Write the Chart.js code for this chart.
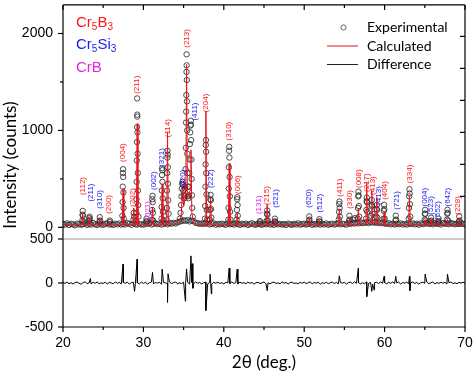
<!DOCTYPE html>
<html>
<head>
<meta charset="utf-8">
<script src="https://cdn.jsdelivr.net/npm/chart.js@4.4.1/dist/chart.umd.min.js"></script>
<style>
  html, body { margin: 0; padding: 0; background: #fff; }
  #wrap { position: relative; width: 474px; height: 384px; }
  #wrap canvas { position: absolute; left: 0; top: 0; }
</style>
</head>
<body>
<div id="wrap">
  <canvas id="topChart" width="474" height="384"></canvas>
  <canvas id="diffChart" width="474" height="384"></canvas>
</div>
<script>
// scan grid for the baseline samples (2theta, deg)
const scanStart = 20, scanStep = 0.25;

// experimental background, one value per grid step (counts)
const expBaseline = [
  34, 28, 41, 25, 37, 30, 22, 39, 31, 27,
  33, 40, 26, 35, 29, 44, 31, 24, 38, 30,
  27, 36, 42, 29, 33, 25, 38, 31, 40, 28,
  35, 30, 44, 37, 26, 41, 33, 29, 36, 31,
  28, 39, 34, 45, 30, 37, 42, 33, 38, 29,
  36, 41, 32, 44, 38, 47, 40, 52, 58, 66,
  72, 68, 75, 61, 70, 64, 48, 43, 37, 40,
  34, 45, 39, 31, 36, 42, 28, 35, 30, 38,
  33, 27, 40, 31, 36, 29, 43, 34, 26, 37,
  31, 39, 25, 34, 42, 30, 28, 36, 33, 27,
  38, 32, 41, 29, 35, 26, 40, 31, 37, 28,
  34, 25, 39, 31, 27, 36, 30, 42, 28, 33,
  37, 29, 35, 41, 26, 34, 31, 38, 28, 36,
  30, 40, 27, 33, 38, 29, 35, 42, 31, 37,
  34, 28, 43, 36, 45, 39, 48, 41, 50, 44,
  47, 52, 45, 55, 49, 53, 46, 51, 42, 48,
  40, 35, 43, 31, 37, 29, 38, 33, 41, 30,
  36, 28, 39, 34, 42, 31, 37, 27, 40, 33,
  38, 45, 35, 41, 32, 43, 36, 39, 30, 44,
  37, 41, 33, 46, 38, 32, 40, 35, 42, 36,
  31
];

// experimental points on the Bragg peaks [2theta, counts]
const expPeakPts = [
  [22.40,70],[22.43,130],[22.45,170],[22.48,120],[22.52,60],
  [23.22,65],[23.26,95],[23.30,110],[23.36,80],
  [24.53,60],[24.57,105],[24.61,70],
  [25.80,55],[25.84,70],
  [27.39,120],[27.41,260],[27.43,420],[27.45,560],[27.47,600],[27.49,520],[27.51,360],[27.53,200],[27.56,90],
  [28.76,80],[28.80,150],[28.84,110],
  [29.10,60],[29.12,150],[29.14,290],[29.16,470],[29.18,690],[29.20,880],[29.21,1034],[29.22,1330],[29.23,1163],[29.24,1143],[29.26,980],[29.28,760],[29.30,560],[29.32,380],[29.35,230],[29.38,110],
  [30.35,60],[30.39,90],[30.43,65],
  [31.07,80],[31.09,180],[31.11,290],[31.13,325],[31.15,260],[31.18,150],[31.22,70],
  [32.25,90],[32.27,210],[32.29,380],[32.31,540],[32.33,610],[32.35,590],[32.37,470],[32.40,300],[32.43,160],[32.47,70],
  [32.90,80],[32.92,200],[32.94,380],[32.96,560],[32.98,720],[33.00,790],[33.02,750],[33.04,620],[33.06,450],[33.09,280],[33.13,140],
  [34.55,90],[34.62,150],[34.68,230],[34.73,320],[34.78,400],[34.83,450],[34.87,470],[34.91,440],[34.96,380],[35.01,330],[35.06,300],[35.11,320],[35.16,400],
  [35.20,420],[35.24,600],[35.27,820],[35.30,1081],[35.32,1194],[35.34,1365],[35.36,1604],[35.37,1785],[35.38,1672],[35.40,1520],[35.42,1300],[35.44,1000],[35.46,760],[35.48,560],[35.51,420],[35.55,320],[35.59,300],
  [35.63,330],[35.66,420],[35.70,560],[35.74,700],[35.78,860],[35.82,980],[35.86,1050],[35.90,1100],[35.92,1060],[35.94,900],[35.97,700],[36.00,500],[36.04,330],[36.08,200],[36.14,110],
  [37.66,90],[37.69,220],[37.72,420],[37.74,650],[37.76,850],[37.78,900],[37.80,780],[37.82,560],[37.85,340],[37.88,180],[37.92,80],
  [38.24,80],[38.28,180],[38.32,290],[38.36,335],[38.39,280],[38.42,190],[38.46,100],
  [40.56,80],[40.59,200],[40.62,400],[40.64,620],[40.66,790],[40.68,830],[40.70,720],[40.72,520],[40.75,320],[40.78,160],[40.82,80],
  [41.60,80],[41.63,180],[41.66,290],[41.68,311],[41.71,230],[41.74,120],
  [44.47,50],[44.50,65],
  [45.34,70],[45.37,140],[45.40,174],[45.43,130],[45.47,70],
  [46.33,60],[46.36,90],[46.40,60],
  [50.60,70],[50.63,113],[50.66,80],
  [51.85,60],[51.88,85],[51.91,60],
  [54.30,80],[54.33,160],[54.36,240],[54.38,266],[54.41,200],[54.44,110],
  [55.58,70],[55.62,120],[55.66,80],
  [56.10,80],[56.32,95],
  [56.66,90],[56.69,200],[56.72,320],[56.74,368],[56.77,330],[56.80,220],[56.84,110],
  [57.70,90],[57.73,180],[57.76,270],[57.78,307],[57.81,260],[57.85,160],
  [58.33,120],[58.37,220],[58.41,283],[58.44,230],[58.48,140],
  [58.97,110],[59.00,190],[59.03,232],[59.06,180],[59.10,100],
  [59.88,90],[59.91,170],[59.94,232],[59.97,190],[60.01,90],
  [61.35,70],[61.39,120],[61.43,80],
  [63.00,90],[63.03,200],[63.06,320],[63.09,393],[63.12,350],[63.15,240],[63.19,110],
  [64.98,80],[65.01,140],[65.04,181],[65.07,140],[65.11,70],
  [65.76,60],[65.79,100],[65.82,70],
  [66.67,55],[66.70,90],[66.73,60],
  [67.76,80],[67.79,140],[67.82,181],[67.85,150],[67.89,70],
  [69.24,60],[69.28,113],[69.32,70]
];

// calculated profile [2theta, counts]
const calcPts = [
  [20,25],
  [22.35,25],[22.45,150],[22.55,25],
  [23.2,25],[23.3,100],[23.4,25],
  [24.47,25],[24.57,95],[24.67,25],
  [25.72,25],[25.82,60],[25.92,25],
  [27.37,25],[27.47,400],[27.57,25],
  [28.7,25],[28.8,200],[28.9,30],
  [29.12,30],[29.22,1070],[29.32,25],
  [30.29,25],[30.39,70],[30.49,25],
  [31.03,25],[31.13,210],[31.23,25],
  [32.23,25],[32.33,450],[32.43,30],
  [32.9,30],[33.0,980],[33.1,35],
  [34.4,35],[34.7,120],[34.87,420],[35.02,220],[35.27,330],[35.37,1680],[35.47,300],[35.8,380],[35.92,800],[36.02,150],[36.3,35],
  [37.67,30],[37.77,1200],[37.87,30],
  [38.26,30],[38.36,300],[38.46,25],
  [40.57,25],[40.67,660],[40.77,25],
  [41.57,25],[41.67,150],[41.77,25],
  [44.4,25],[44.5,50],[44.6,25],
  [45.3,25],[45.4,240],[45.5,25],
  [46.26,25],[46.36,80],[46.46,25],
  [50.53,25],[50.63,95],[50.73,25],
  [51.78,25],[51.88,75],[51.98,25],
  [54.27,25],[54.37,190],[54.47,25],
  [55.52,25],[55.62,100],[55.72,25],
  [56.64,30],[56.74,200],[56.84,35],
  [57.68,35],[57.78,460],[57.88,45],
  [58.31,45],[58.41,380],[58.51,45],
  [58.93,40],[59.03,310],[59.13,35],
  [59.84,30],[59.94,160],[60.04,25],
  [61.29,25],[61.39,50],[61.49,25],
  [62.99,25],[63.09,330],[63.19,25],
  [64.94,25],[65.04,80],[65.14,25],
  [65.69,25],[65.79,80],[65.89,25],
  [66.6,25],[66.7,70],[66.8,25],
  [67.72,25],[67.82,80],[67.92,25],
  [69.18,25],[69.28,90],[69.38,25],
  [70,25]
];

// difference curve: background noise on the scan grid + peak misfits
const diffBaseline = [
  8, -5, 12, -9, 4, -12, 6, 10, -3, -14,
  5, 13, -7, 2, -10, 9, -4, 11, -8, 3,
  -6, 10, -12, 7, 1, -9, 12, -4, 8, -11,
  6, -3, 10, -13, 4, 9, -7, 2, -10, 11,
  -5, 8, -12, 3, 12, -8, 5, -2, 9, -14,
  7, 1, -9, 11, -6, 4, 13, -11, 2, -7,
  10, -4, 8, -12, 5, -9, 12, -3, 6, -10,
  3, 11, -8, 5, -13, 7, -2, 9, -6, 4,
  -11, 8, 2, -7, 12, -5, 6, -12, 10, -3,
  5, -9, 11, -4, 7, -13, 3, 9, -6, 1,
  12, -8, 4, -11, 6, 10, -5, 2, -9, 13,
  -3, 7, -12, 5, 9, -6, 1, -10, 8, -4,
  11, -7, 3, 12, -9, 6, -2, 10, -13, 4,
  -5, 9, -8, 2, 11, -6, 7, -11, 5, -1,
  8, -12, 4, 10, -7, 13, -4, 6, -10, 3,
  -8, 12, -5, 7, -11, 2, 9, -6, 11, -3,
  5, -10, 8, -4, 12, -7, 3, 10, -12, 6,
  -2, 9, -9, 4, 11, -6, 7, -13, 5, 8,
  -4, 10, -8, 3, 12, -11, 6, -5, 9, -2,
  7, -10, 4, 11, -6, 2, -9, 8, -3, 10,
  -5
];
const diffSpikes = [
  [23.40,50],[27.47,214],[28.90,-95],[29.22,271],[31.13,120],[32.33,158],
  [33.00,-219],[33.06,105],[35.22,-207],[35.37,160],[35.92,308],[36.05,220],[36.15,-60],
  [37.77,-312],[38.30,100],[38.45,-124],[40.67,170],[41.67,158],[45.40,-87],
  [54.37,82],[56.74,170],[57.78,-155],[58.41,-95],[58.70,-80],[59.94,75],
  [61.39,75],[63.09,75],[63.14,-87],[65.04,100],[67.82,100]
];

// reflection labels [text, phase, 2theta, counts at label foot]
const hklLabels = [
  ['(112)','Cr5B3',22.42,333], ['(211)','Cr5Si3',23.41,266], ['(310)','Cr5Si3',24.57,191],
  ['(200)','Cr5B3',25.73,140], ['(004)','Cr5B3',27.40,675], ['(202)','Cr5B3',28.64,212],
  ['(211)','Cr5B3',29.22,1378], ['(021)','CrB',30.51,79], ['(002)','Cr5Si3',31.26,386],
  ['(321)','Cr5Si3',32.33,624], ['(114)','Cr5B3',33.08,930], ['(420)','Cr5Si3',34.94,403],
  ['(213)','Cr5B3',35.37,1853], ['(411)','Cr5Si3',36.40,1102], ['(204)','Cr5B3',37.73,1187],
  ['(222)','Cr5Si3',38.36,405], ['(310)','Cr5B3',40.67,897], ['(006)','Cr5B3',41.79,345],
  ['(131)','CrB',44.41,137], ['(215)','Cr5B3',45.40,232], ['(521)','Cr5Si3',46.45,202],
  ['(620)','Cr5Si3',50.63,202], ['(512)','Cr5Si3',51.88,154], ['(411)','Cr5B3',54.46,317],
  ['(330)','Cr5B3',55.70,191], ['(008)','Cr5B3',56.74,406], ['(217)','Cr5B3',57.78,365],
  ['(413)','Cr5B3',58.53,335], ['(413)','Cr5Si3',59.23,232], ['(404)','Cr5B3',60.06,284],
  ['(721)','Cr5Si3',61.52,181], ['(334)','Cr5B3',63.09,454], ['(004)','Cr5Si3',64.96,215],
  ['(523)','Cr5Si3',65.79,130], ['(552)','Cr5Si3',66.62,79], ['(642)','Cr5Si3',67.82,215],
  ['(228)','Cr5B3',69.12,130]
];

const phaseNames = ['Cr5B3', 'Cr5Si3', 'CrB'];
const phaseColors = { 'Cr5B3': '#ff1414', 'Cr5Si3': '#1a1aee', 'CrB': '#e622e6' };
const seriesNames = ['Experimental', 'Calculated', 'Difference'];

const xMajor = [20, 30, 40, 50, 60, 70];
const xMinor = [25, 35, 45, 55, 65];
const topMajor = [0, 1000, 2000];
const topMinor = [500, 1500];
const rightTickVals = [320, 650, 980, 1310, 1640, 1970];
const diffMajor = [-500, 0, 500];

const sansFont = '"Liberation Sans", Arial, sans-serif';
const latoFont = 'Lato, "Open Sans", sans-serif';
Chart.defaults.font.family = sansFont;
Chart.defaults.color = '#000';

const expData = expBaseline.map((y, i) => ({ x: scanStart + i * scanStep, y }))
  .concat(expPeakPts.map(p => ({ x: p[0], y: p[1] })));
const calcData = calcPts.map(p => ({ x: p[0], y: p[1] }));
const diffData = diffBaseline.map((y, i) => ({ x: scanStart + i * scanStep, y }))
  .concat(diffSpikes.map(p => ({ x: p[0], y: p[1] })))
  .sort((a, b) => a.x - b.x);

const line = (ctx, x1, y1, x2, y2) => {
  ctx.beginPath(); ctx.moveTo(x1, y1); ctx.lineTo(x2, y2); ctx.stroke();
};

const drawFormula = (ctx, text, x, y, color) => {
  ctx.fillStyle = color;
  ctx.textAlign = 'left';
  ctx.textBaseline = 'alphabetic';
  let cx = x;
  for (const ch of text) {
    const sub = /\d/.test(ch);
    ctx.font = (sub ? '10px ' : '15px ') + sansFont;
    ctx.fillText(ch, cx, sub ? y + 3 : y);
    cx += ctx.measureText(ch).width;
  }
};

// fixed axis boxes so both panels line up exactly
const fixY = s => { s.width = 63; s.paddingTop = 0; s.paddingBottom = 0; };
const fixX = s => { s.height = 57; s.paddingLeft = 0; s.paddingRight = 0; };

const topDecor = {
  id: 'topDecor',
  afterDraw(chart) {
    const { ctx, chartArea: a, scales } = chart;
    const xs = scales.x, ys = scales.y;
    ctx.save();
    // frame and tick marks
    ctx.strokeStyle = '#000';
    ctx.lineWidth = 1.2;
    line(ctx, a.left, a.top, a.right, a.top);
    line(ctx, a.left, a.top, a.left, a.bottom);
    line(ctx, a.right, a.top, a.right, a.bottom);
    topMajor.forEach(v => line(ctx, a.left, ys.getPixelForValue(v), a.left - 5, ys.getPixelForValue(v)));
    topMinor.forEach(v => line(ctx, a.left, ys.getPixelForValue(v), a.left - 3, ys.getPixelForValue(v)));
    xMajor.forEach(v => line(ctx, xs.getPixelForValue(v), a.top, xs.getPixelForValue(v), a.top + 5));
    xMinor.forEach(v => line(ctx, xs.getPixelForValue(v), a.top, xs.getPixelForValue(v), a.top + 3));
    rightTickVals.forEach(v => line(ctx, a.right, ys.getPixelForValue(v), a.right - 5, ys.getPixelForValue(v)));
    ctx.strokeStyle = '#9a9a9a';
    line(ctx, a.left, a.bottom, a.right, a.bottom);

    // reflection labels
    ctx.font = '8px ' + sansFont;
    ctx.textAlign = 'left';
    ctx.textBaseline = 'middle';
    hklLabels.forEach(([t, ph, x, y]) => {
      ctx.save();
      ctx.translate(xs.getPixelForValue(x), ys.getPixelForValue(y));
      ctx.rotate(-Math.PI / 2);
      ctx.fillStyle = phaseColors[ph];
      ctx.fillText(t, 0, 0);
      ctx.restore();
    });

    // phase names
    drawFormula(ctx, phaseNames[0], 76, 26.5, phaseColors[phaseNames[0]]);
    drawFormula(ctx, phaseNames[1], 76, 48.5, phaseColors[phaseNames[1]]);
    drawFormula(ctx, phaseNames[2], 76, 71.5, phaseColors[phaseNames[2]]);

    // legend
    ctx.font = '14px ' + latoFont;
    ctx.fillStyle = '#000';
    ctx.textAlign = 'left';
    ctx.textBaseline = 'middle';
    ctx.fillText(seriesNames[0], 367, 27.5);
    ctx.fillText(seriesNames[1], 367, 46);
    ctx.fillText(seriesNames[2], 367, 64.5);
    ctx.lineWidth = 0.9;
    ctx.strokeStyle = 'rgba(70,70,70,0.9)';
    ctx.beginPath(); ctx.arc(343.5, 27.5, 2.6, 0, Math.PI * 2); ctx.stroke();
    ctx.lineWidth = 1;
    ctx.strokeStyle = '#e8101a';
    line(ctx, 327, 46, 358, 46);
    ctx.strokeStyle = '#222';
    line(ctx, 327, 64.5, 358, 64.5);

    // y axis title, centred on both panels
    ctx.save();
    ctx.translate(11, 165);
    ctx.rotate(-Math.PI / 2);
    ctx.font = '17px ' + latoFont;
    ctx.textAlign = 'center';
    ctx.fillStyle = '#000';
    ctx.fillText('Intensity (counts)', 0, 0);
    ctx.restore();
    ctx.restore();
  }
};

const diffDecor = {
  id: 'diffDecor',
  afterDraw(chart) {
    const { ctx, chartArea: a, scales } = chart;
    const xs = scales.x, ys = scales.y;
    ctx.save();
    ctx.strokeStyle = '#000';
    ctx.lineWidth = 1.2;
    line(ctx, a.left, a.top, a.left, a.bottom);
    line(ctx, a.right, a.top, a.right, a.bottom);
    line(ctx, a.left - 0.6, a.bottom, a.right + 0.6, a.bottom);
    diffMajor.forEach(v => line(ctx, a.left, ys.getPixelForValue(v), a.left - 5, ys.getPixelForValue(v)));
    xMajor.forEach(v => line(ctx, xs.getPixelForValue(v), a.bottom, xs.getPixelForValue(v), a.bottom + 5));
    xMinor.forEach(v => line(ctx, xs.getPixelForValue(v), a.bottom, xs.getPixelForValue(v), a.bottom + 3));
    ctx.font = '17px ' + latoFont;
    ctx.fillStyle = '#000';
    ctx.textAlign = 'center';
    ctx.textBaseline = 'middle';
    ctx.fillText('2\u03b8 (deg.)', (a.left + a.right) / 2, 363);
    ctx.restore();
  }
};

const tickFont = { size: 14, family: sansFont };

new Chart(document.getElementById('topChart'), {
  type: 'scatter',
  data: {
    datasets: [
      {
        label: 'Calculated',
        data: calcData,
        showLine: true,
        borderColor: '#e8101a',
        borderWidth: 1,
        pointRadius: 0,
        order: 0
      },
      {
        label: 'Experimental',
        data: expData,
        showLine: false,
        pointStyle: 'circle',
        pointRadius: 2.7,
        pointBorderWidth: 0.9,
        pointBorderColor: 'rgba(45,45,45,0.95)',
        pointBackgroundColor: 'rgba(0,0,0,0)',
        order: 1
      }
    ]
  },
  options: {
    responsive: false,
    animation: false,
    events: [],
    layout: { padding: { left: 0, right: 9, top: 4, bottom: 145 } },
    plugins: { legend: { display: false }, tooltip: { enabled: false } },
    scales: {
      x: { type: 'linear', min: 20, max: 70, display: false },
      y: {
        type: 'linear', min: -120, max: 2295,
        afterFit: fixY,
        afterBuildTicks: s => { s.ticks = topMajor.map(v => ({ value: v })); },
        grid: { display: false, drawTicks: false },
        border: { display: false },
        ticks: { padding: 10, font: tickFont, color: '#000', callback: v => String(v) }
      }
    }
  },
  plugins: [topDecor]
});

new Chart(document.getElementById('diffChart'), {
  type: 'scatter',
  data: {
    datasets: [{
      label: 'Difference',
      data: diffData,
      showLine: true,
      borderColor: '#000',
      borderWidth: 1,
      pointRadius: 0
    }]
  },
  options: {
    responsive: false,
    animation: false,
    events: [],
    layout: { padding: { left: 0, right: 9, top: 239, bottom: 0 } },
    plugins: { legend: { display: false }, tooltip: { enabled: false } },
    scales: {
      x: {
        type: 'linear', min: 20, max: 70,
        afterFit: fixX,
        afterBuildTicks: s => { s.ticks = xMajor.map(v => ({ value: v })); },
        grid: { display: false, drawTicks: false },
        border: { display: false },
        ticks: { padding: 8, font: tickFont, color: '#000', maxRotation: 0, callback: v => String(v) }
      },
      y: {
        type: 'linear', min: -500, max: 500,
        afterFit: fixY,
        afterBuildTicks: s => { s.ticks = diffMajor.map(v => ({ value: v })); },
        grid: { display: false, drawTicks: false },
        border: { display: false },
        ticks: { padding: 10, font: tickFont, color: '#000', callback: v => String(v) }
      }
    }
  },
  plugins: [diffDecor]
});
</script>
</body>
</html>
